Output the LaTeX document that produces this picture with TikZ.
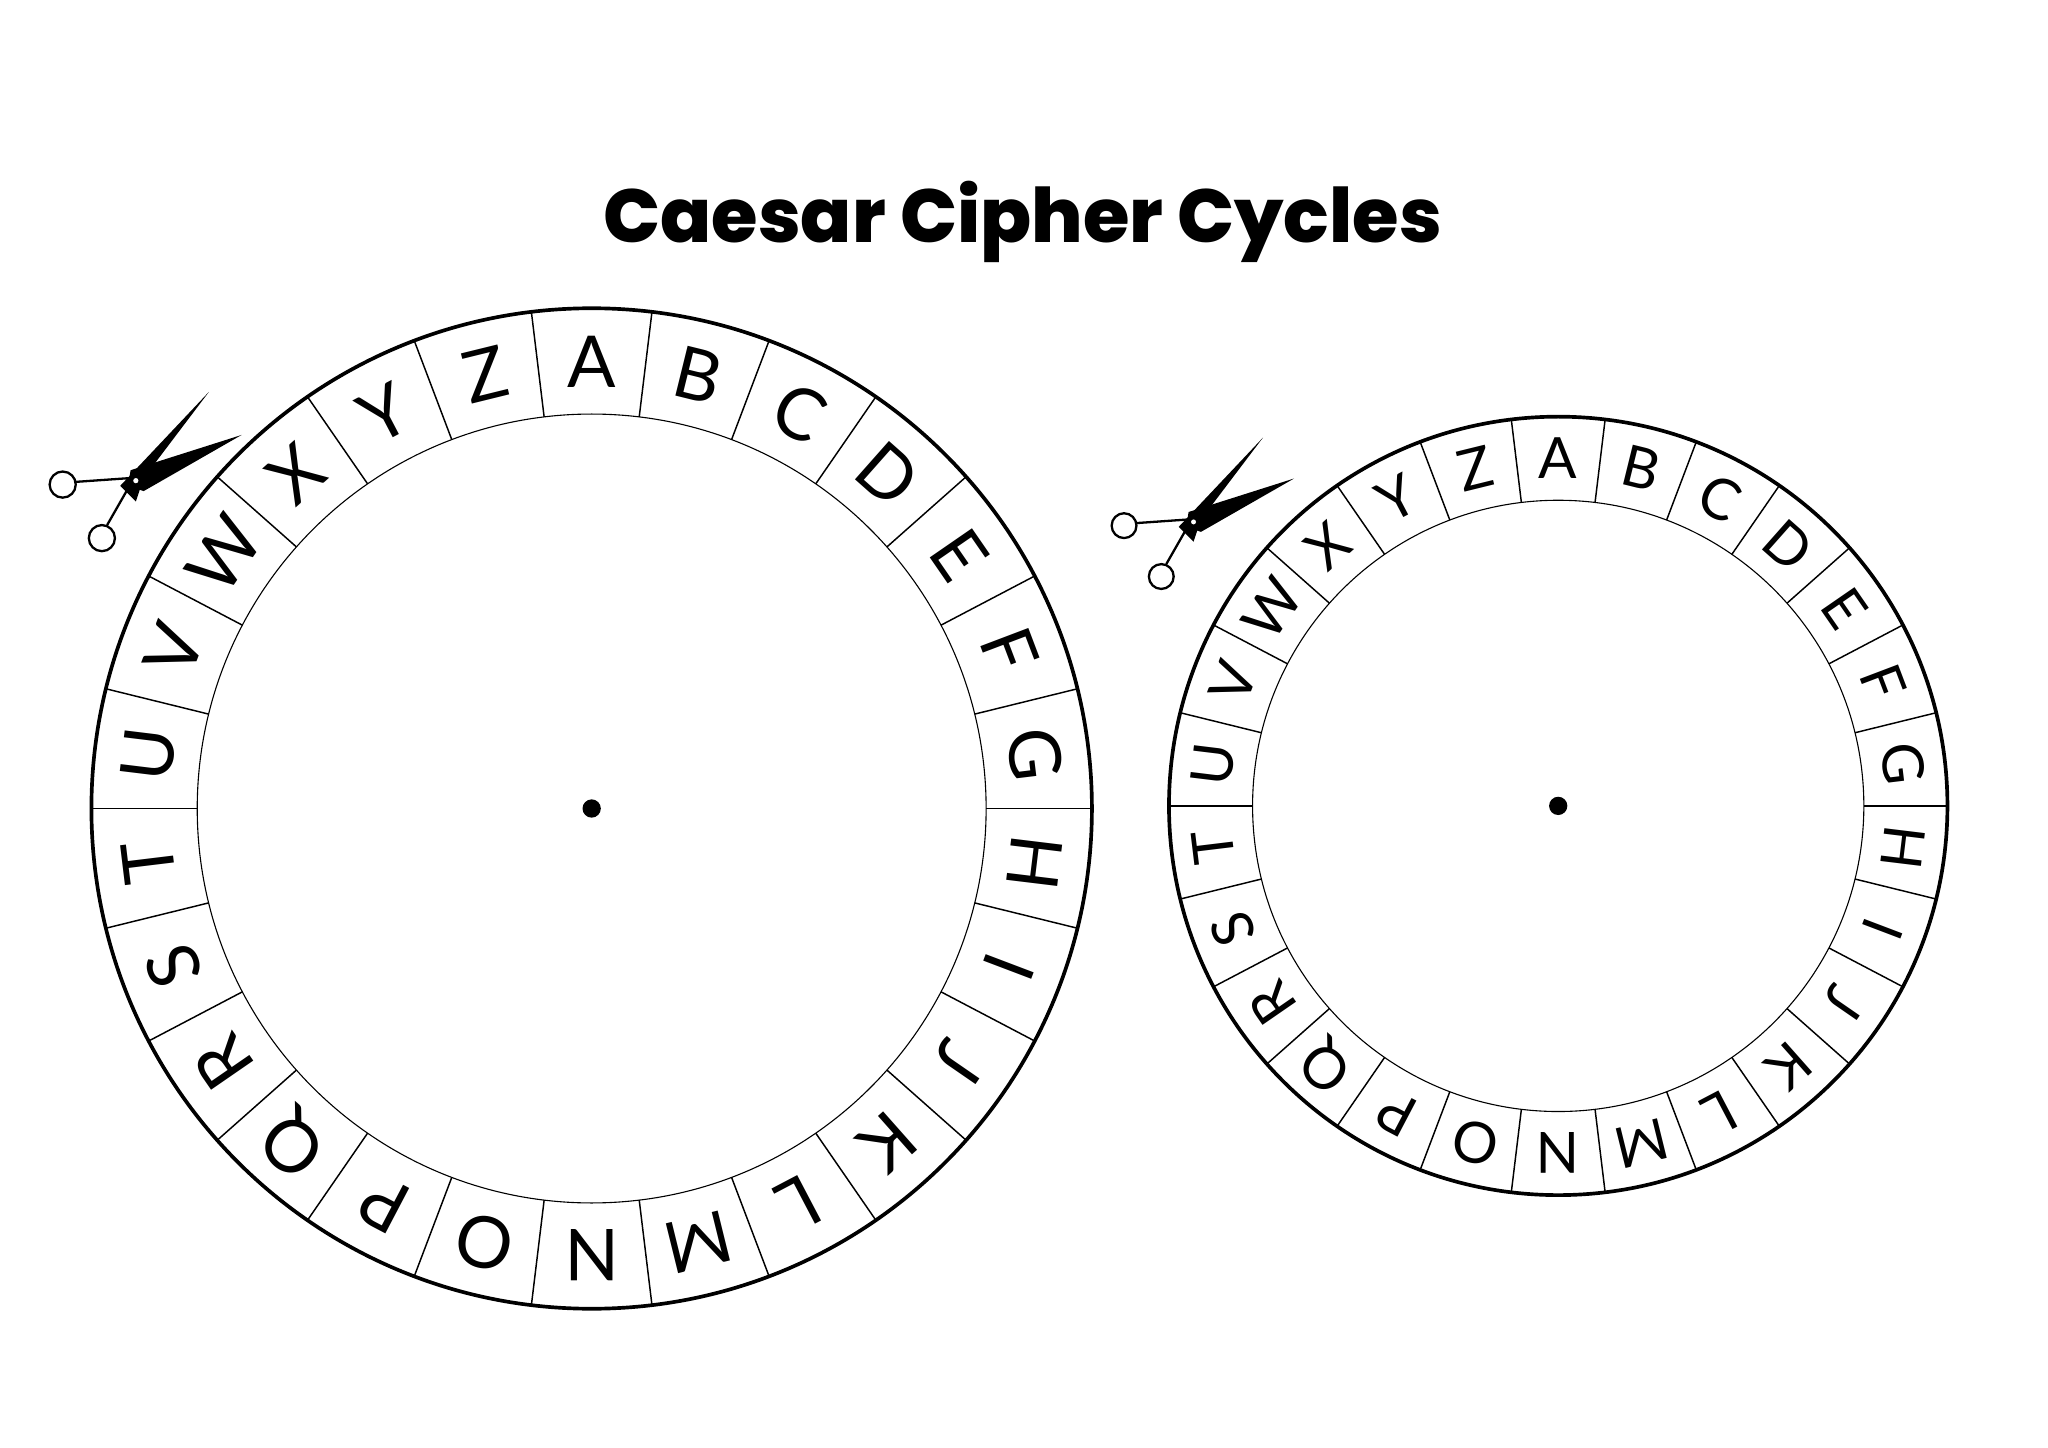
\documentclass[tikz,border=0pt]{standalone}
\usepackage{fontspec}
\setmainfont{Lato}
\newfontfamily\titlefont{Poppins ExtraBold}
\begin{document}
\begin{tikzpicture}[x=0.05cm,y=0.05cm,
  ring/.style={line width=4pt},
  inner/.style={line width=1.2pt},
  sep/.style={line width=1.6pt},
  letter/.style={inner sep=0pt},
  dot/.style={circle,fill=black,inner sep=0pt,minimum size=0.7cm}]
\useasboundingbox (0,0) rectangle (1568,-1108);
\node[font=\titlefont\fontsize{82}{82}\selectfont] (title) at (783,-170) {Caesar Cipher Cycles};
\foreach \cx/\cy/\ro/\ri/\rl/\fs/\nm in {453/-619/383/302/342/78/big, 1193/-617/298/234/266/62/small}{
  \draw[ring] (\cx,\cy) circle (\ro);
  \draw[inner] (\cx,\cy) circle (\ri);
  \node[dot] (\nm c) at (\cx,\cy) {};
  \foreach \L [count=\i from 0] in {A,B,C,D,E,F,G,H,I,J,K,L,M,N,O,P,Q,R,S,T,U,V,W,X,Y,Z}{
    \pgfmathsetmacro{\a}{90-\i*360/26}
    \pgfmathsetmacro{\b}{\a+180/26}
    \node[letter,rotate=\a-90,font=\fontsize{\fs}{\fs}\selectfont] (\nm\L) at ({\cx+\rl*cos(\a)},{\cy+\rl*sin(\a)}) {\L};
    \draw[sep] ({\cx+\ri*cos(\b)},{\cy+\ri*sin(\b)}) -- ({\cx+\ro*cos(\b)},{\cy+\ro*sin(\b)});
  }
}
\foreach \sx/\sy/\s/\nm in {0/0/1/sa, 815/-50/0.95/sb}{
  \begin{scope}[shift={(\sx,\sy)},scale=\s]
    \coordinate (\nm p) at (105,-368);
    \draw[line width=2.5pt] (48,-371) circle (10);
    \draw[line width=2.5pt] (78,-412) circle (10);
    \draw[line width=2.5pt] (57,-369) -- (100,-366);
    \draw[line width=2.5pt] (82,-402) -- (98,-374);
    \fill (100,-360) -- (185,-333) -- (110,-376) -- (98,-372) -- cycle;
    \fill (92,-372) -- (160,-300) -- (110,-366) -- (104,-384) -- cycle;
    \fill[white] (104,-368) circle (2);
  \end{scope}
}
\end{tikzpicture}
\end{document}
